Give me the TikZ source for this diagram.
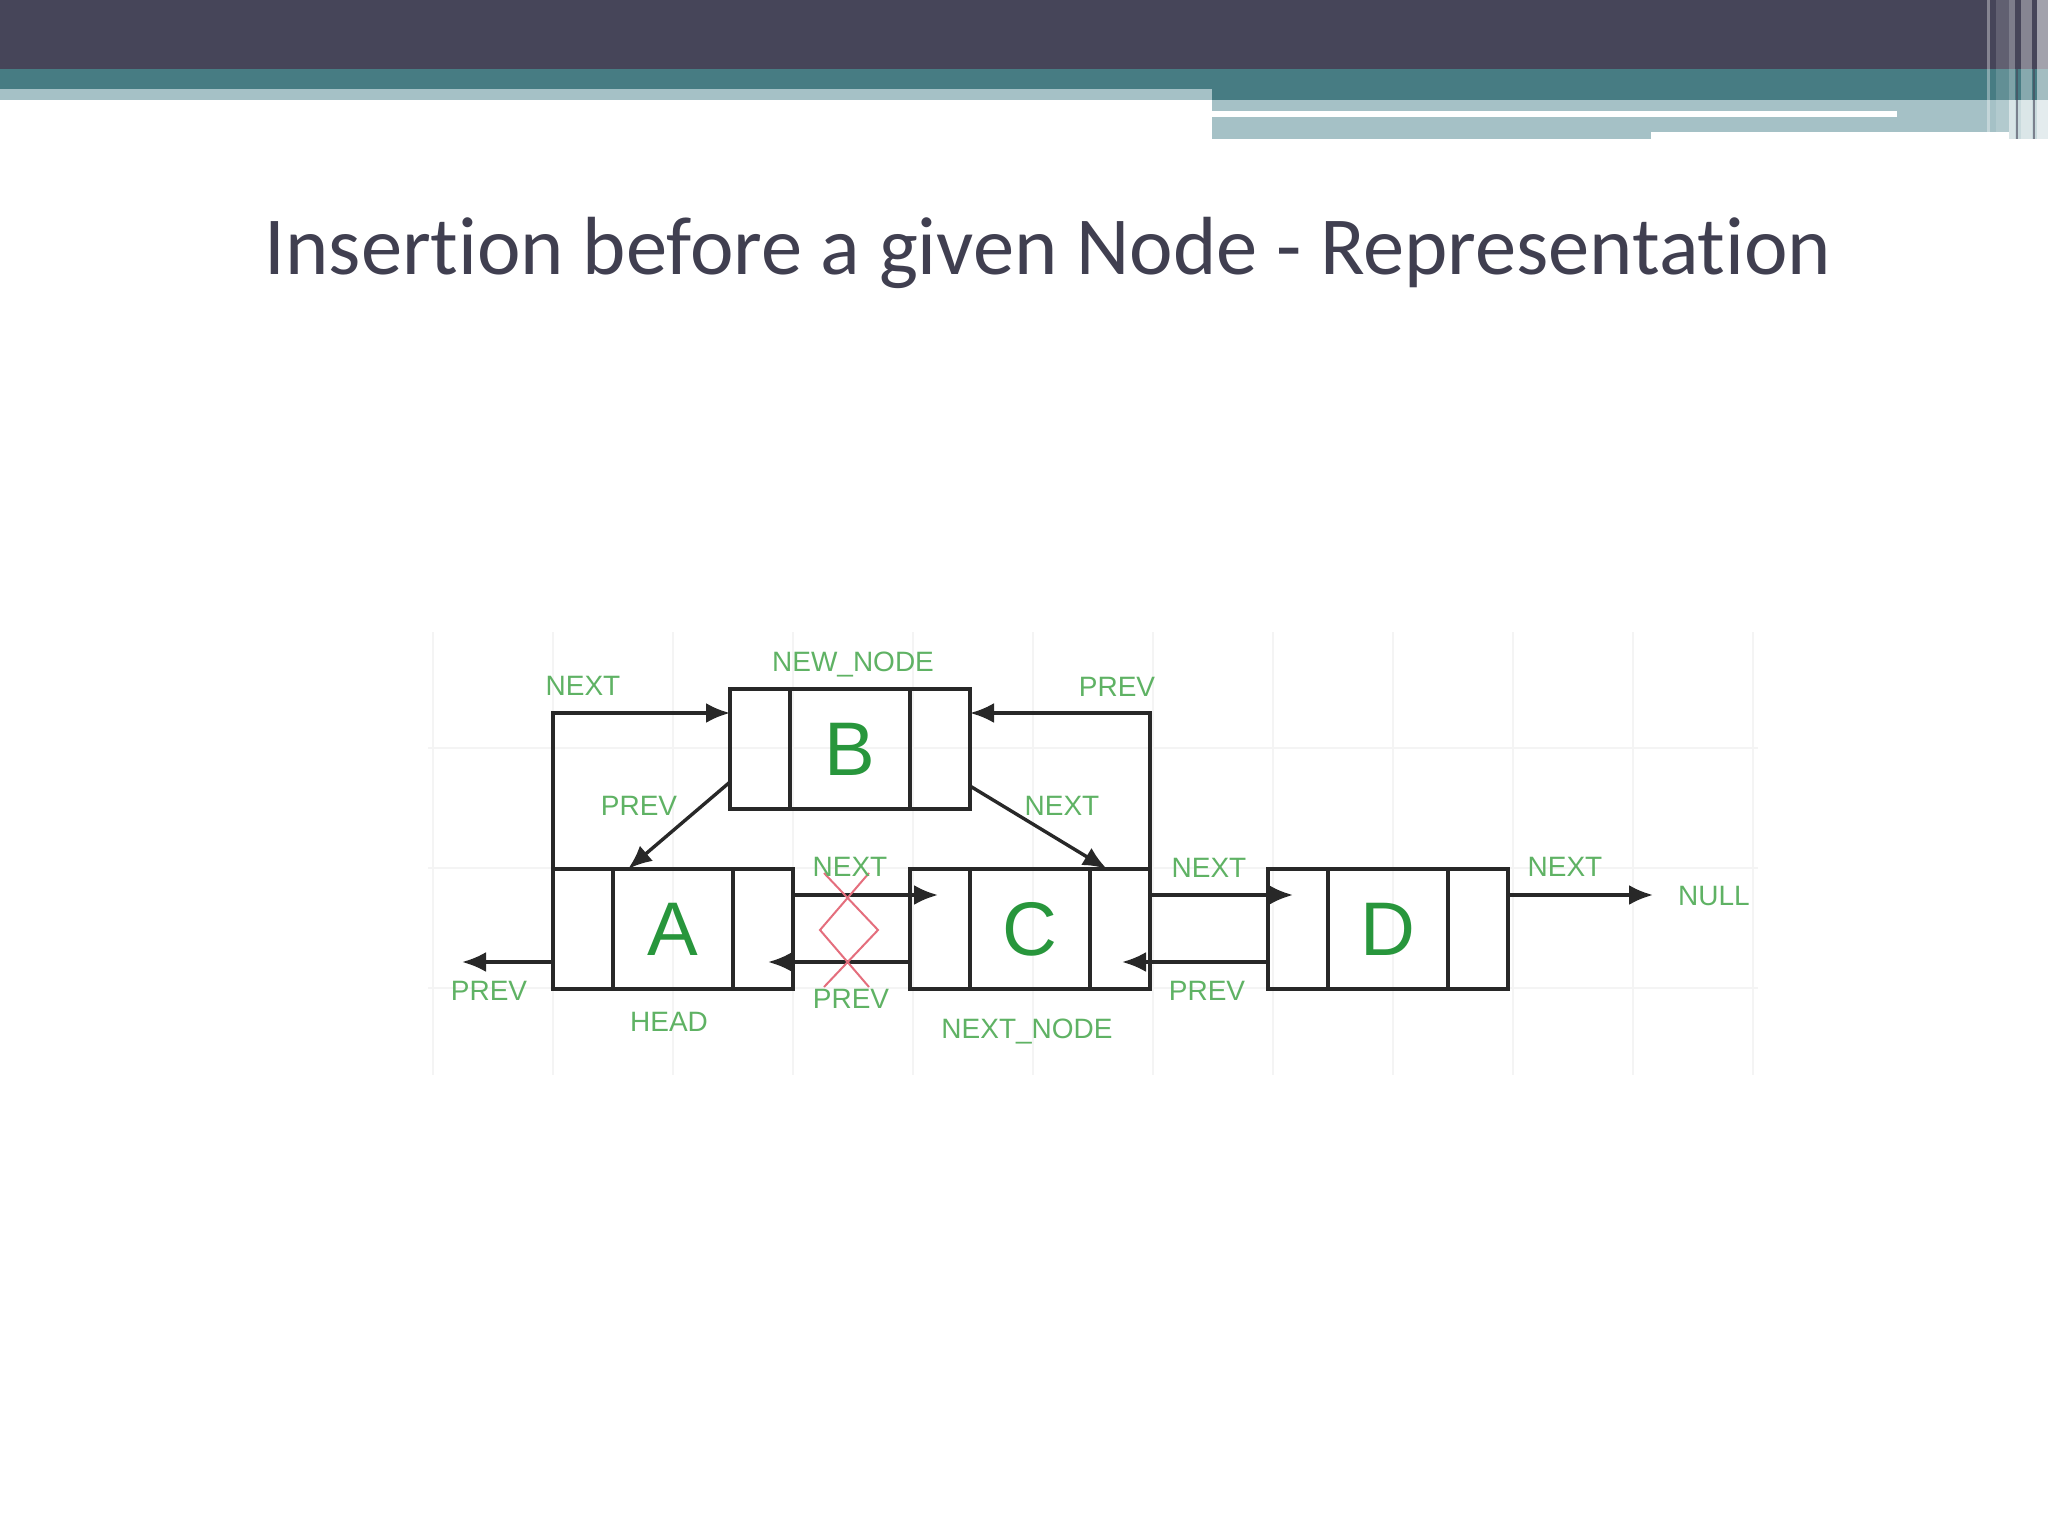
\documentclass[tikz,border=0pt]{standalone}
\usepackage{fontspec}
\setmainfont{Carlito}[Ligatures=NoCommon]
\newfontfamily\labelfont{Liberation Sans}
\usetikzlibrary{arrows.meta,positioning}
\definecolor{bardark}{RGB}{70,69,89}
\definecolor{barteal}{RGB}{71,124,131}
\definecolor{barlight}{RGB}{165,193,198}
\definecolor{titlegray}{RGB}{64,63,80}
\definecolor{linegray}{RGB}{40,40,40}
\definecolor{lettergreen}{RGB}{40,150,60}
\definecolor{labelgreen}{RGB}{95,178,100}
\definecolor{crossred}{RGB}{228,110,125}
\definecolor{gridgray}{RGB}{244,244,244}

\begin{document}
\begin{tikzpicture}[x=1pt, y=-1pt,
    cell/.style={draw=linegray, line width=3.4pt, minimum width=60pt, minimum height=120pt, inner sep=0pt, outer sep=0pt},
    datacell/.style={cell, minimum width=120pt, text=lettergreen, font=\labelfont\fontsize{76}{76}\selectfont},
    lbl/.style={text=labelgreen, inner sep=0pt, text height=20pt, text depth=0pt, font=\labelfont\fontsize{28}{28}\selectfont},
    link/.style={draw=linegray, line width=3.4pt, -{Latex[length=24pt,width=20pt]}},
    cross/.style={draw=crossred, line width=2pt},
    gridline/.style={draw=gridgray, line width=1.5pt},
    node distance=0pt]
    \useasboundingbox (0,0) rectangle (2048,1536);

    % slide banner
    \fill[bardark] (0,0) rectangle (2048,69);
    \fill[barteal] (0,69) rectangle (2048,100);
    \fill[barlight] (0,89) rectangle (1212,100);
    \fill[barlight] (1212,100) rectangle (2009,132);
    \fill[barlight] (1212,132) rectangle (1651,139);
    \fill[white] (1212,111) rectangle (1897,117);
    \fill[barlight!60] (2009,100) rectangle (2048,139);
    \fill[white, opacity=.35] (1987,0) rectangle (1990,139);
    \fill[white, opacity=.15] (1996,0) rectangle (2009,139);
    \fill[white, opacity=.3] (2009,0) rectangle (2015,139);
    \fill[bardark, opacity=.6] (2016,0) rectangle (2018,139);
    \fill[white, opacity=.35] (2021,0) rectangle (2032,139);
    \fill[bardark, opacity=.6] (2033,0) rectangle (2035,139);
    \fill[white, opacity=.5] (2037,0) rectangle (2048,139);

    \node[anchor=base, text=titlegray, font=\fontsize{82.5}{82.5}\selectfont] (title) at (1048,274) {Insertion before a given Node - Representation};

    % background grid
    \foreach \gx in {433,553,...,1753} \draw[gridline] (\gx,632) -- (\gx,1075);
    \foreach \gy in {748,868,988} \draw[gridline] (428,\gy) -- (1758,\gy);

    \node[cell] (Ap) at (583,929) {};
    \node[datacell, right=of Ap] (A) {A};
    \node[cell, right=of A] (An) {};

    \node[cell] (Bp) at (760,749) {};
    \node[datacell, right=of Bp] (B) {B};
    \node[cell, right=of B] (Bn) {};

    \node[cell] (Cp) at (940,929) {};
    \node[datacell, right=of Cp] (C) {C};
    \node[cell, right=of C] (Cn) {};

    \node[cell] (Dp) at (1298,929) {};
    \node[datacell, right=of Dp] (D) {D};
    \node[cell, right=of D] (Dn) {};

    \node[lbl] (newnode) at (853,661) {NEW\_NODE};
    \node[lbl] (head) at (669,1021) {HEAD};
    \node[lbl] (nextnode) at (1027,1028) {NEXT\_NODE};
    \node[lbl] (null) at (1714,895) {NULL};
    \coordinate (headprev) at (462,962);

    \draw[link] (Ap.north west) |- ([yshift=36pt]Bp.west);
    \draw[link] (Cn.north east) |- ([yshift=36pt]Bn.east);
    \draw[link] ([yshift=27pt]Bp.south west) -- ([xshift=15pt]A.north west);
    \draw[link] ([yshift=23pt]Bn.south east) -- ([xshift=17pt]Cn.north west);
    \draw[link, shorten >=-28pt] ([yshift=34pt]An.east) -- ([yshift=34pt]Cp.west);
    \draw[link, shorten >=-25pt] ([yshift=-33pt]Cp.west) -- ([yshift=-33pt]An.east);
    \draw[link, shorten >=-25pt] ([yshift=34pt]Cn.east) -- ([yshift=34pt]Dp.west);
    \draw[link, shorten >=-28pt] ([yshift=-33pt]Dp.west) -- ([yshift=-33pt]Cn.east);
    \draw[link] ([yshift=-33pt]Ap.west) -- (headprev);
    \draw[link] ([yshift=34pt]Dn.east) -- ([xshift=-25pt]null.west);

    \draw[cross] (824,873) -- (878,930) -- (824,987);
    \draw[cross] (869,873) -- (820,930) -- (869,987);

    \node[lbl] (nextab) at (583,685) {NEXT};
    \node[lbl] (prevcb) at (1117,686) {PREV};
    \node[lbl] (prevba) at (639,805) {PREV};
    \node[lbl] (nextbc) at (1062,805) {NEXT};
    \node[lbl] (nextac) at (850,866) {NEXT};
    \node[lbl] (prevca) at (851,998) {PREV};
    \node[lbl] (prevhead) at (489,990) {PREV};
    \node[lbl] (nextcd) at (1209,867) {NEXT};
    \node[lbl] (prevdc) at (1207,990) {PREV};
    \node[lbl] (nextnull) at (1565,866) {NEXT};
\end{tikzpicture}
\end{document}
